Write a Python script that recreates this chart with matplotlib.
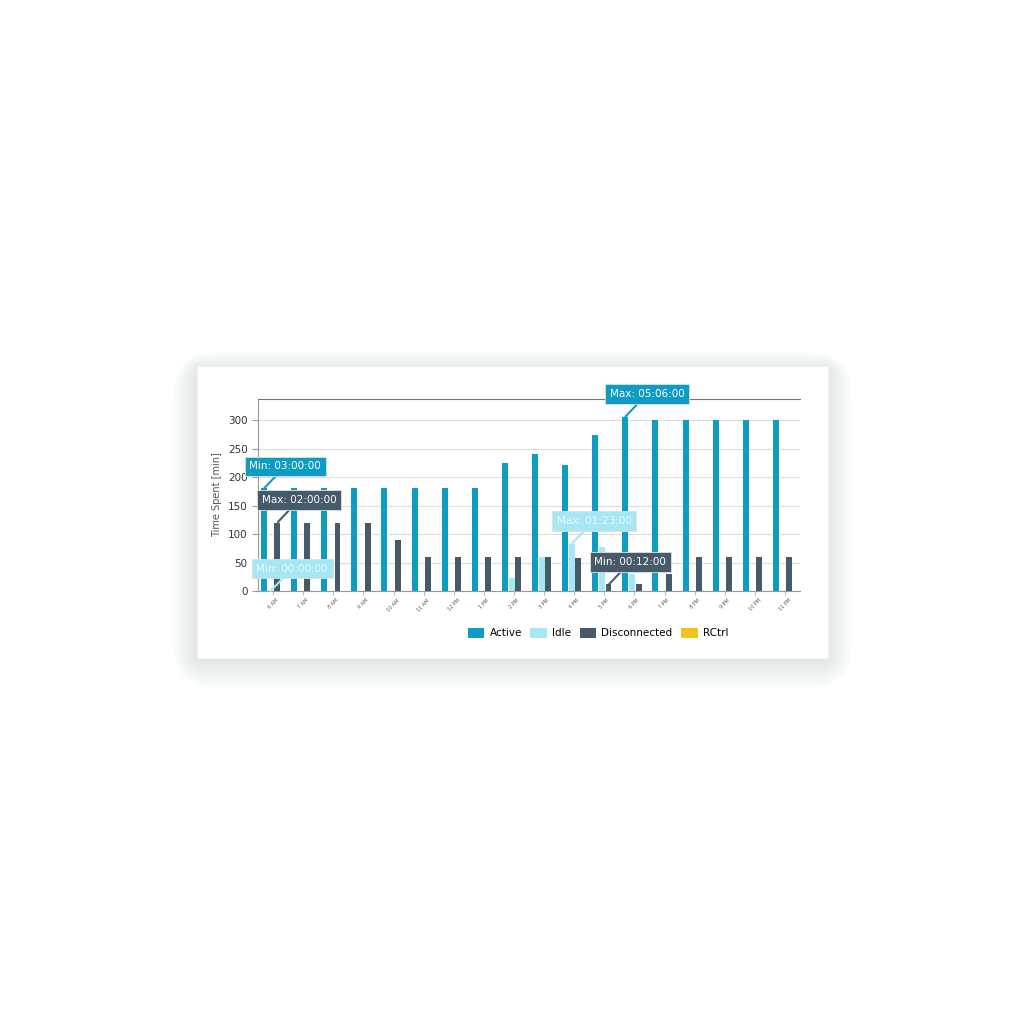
import numpy as np
import matplotlib
matplotlib.use("Agg")
import matplotlib.pyplot as plt
from matplotlib.patches import FancyBboxPatch

# Data (minutes)
hours = ["6 AM", "7 AM", "8 AM", "9 AM", "10 AM", "11 AM", "12 PM", "1 PM", "2 PM",
         "3 PM", "4 PM", "5 PM", "6 PM", "7 PM", "8 PM", "9 PM", "10 PM", "11 PM"]
active = [180, 180, 180, 180, 180, 180, 180, 180, 225, 240, 221, 273, 306, 300, 300, 300, 300, 300]
idle = [0, 0, 0, 0, 0, 0, 0, 0, 23, 60, 83, 77, 30, 0, 0, 0, 0, 0]
disconnected = [120, 120, 120, 120, 90, 60, 60, 60, 60, 60, 58, 12, 12, 30, 60, 60, 60, 60]
rctrl = [0] * 18
series_names = ["Active", "Idle", "Disconnected", "RCtrl"]
colors = ["#0f9cc3", "#a6e7f6", "#465a69", "#f1c418"]

fig = plt.figure(figsize=(10.24, 10.24), dpi=100)

# background with the card and its soft shadow
bg = fig.add_axes([0, 0, 1, 1])
bg.set_xlim(0, 1024)
bg.set_ylim(1024, 0)
bg.axis("off")
for i in range(22, 0, -1):
    bg.add_patch(FancyBboxPatch((197 - i * 1.1, 370 - i * 0.8), 631 + i * 2.2, 290 + i * 2.1,
                                boxstyle="round,pad=0,rounding_size=%d" % (i * 2),
                                fc="#a0a8b0", ec="none", alpha=0.012))
bg.add_patch(FancyBboxPatch((197, 366), 631, 292, boxstyle="square,pad=0",
                            fc="white", ec="#f2f2f2", lw=0.5))

ax = fig.add_axes([258 / 1024, 1 - 591 / 1024, 542 / 1024, 192 / 1024])
x = np.arange(len(hours))
w = 0.22
for k, (vals, name, c) in enumerate(zip([active, idle, disconnected, rctrl], series_names, colors)):
    ax.bar(x + (k - 1.5) * w + 0.03, vals, width=w * 0.9, color=c, label=name, zorder=3)

ax.set_xlim(-0.5, len(hours) - 0.5)
ax.set_ylim(0, 337)
ax.set_yticks([0, 50, 100, 150, 200, 250, 300])
ax.set_xticks(x)
ax.set_xticklabels(hours, rotation=45, fontsize=3.5, color="#555555", ha="center")
ax.tick_params(axis="y", labelsize=7.5, colors="#333333", length=4, color="#999999")
ax.tick_params(axis="x", length=3, color="#bbbbbb", pad=2)
ax.grid(axis="y", color="#dddddd", lw=0.8, zorder=0)
for s in ["left", "bottom"]:
    ax.spines[s].set_color("#999999")
ax.spines["top"].set_color("#777777")
ax.spines["right"].set_visible(False)
ax.set_ylabel("Time Spent [min]", fontsize=7, color="#555555", labelpad=4)

# tooltips: text, box position, point on bar, box colour, text colour
tips = [
    ("Min: 03:00:00", (0.40, 219), (-0.3, 180), "#0f9cc3", "white"),
    ("Max: 02:00:00", (0.86, 160), (0.16, 121), "#465a69", "white"),
    ("Min: 00:00:00", (0.63, 39), (-0.08, 0), "#a6e7f6", "#e8f9fd"),
    ("Max: 01:23:00", (10.66, 123), (9.92, 83), "#a6e7f6", "#e8f9fd"),
    ("Min: 00:12:00", (11.86, 51), (11.16, 12), "#465a69", "white"),
    ("Max: 05:06:00", (12.42, 346), (11.70, 306), "#0f9cc3", "white"),
]
for txt, pos, pt, bc, tc in tips:
    ax.annotate(txt, xy=pt, xytext=pos, ha="center", va="center", fontsize=7.5, color=tc,
                bbox=dict(boxstyle="square,pad=0.45", fc=bc, ec="#e0e0e0", lw=0.6),
                arrowprops=dict(arrowstyle="-", color=bc, lw=1.5, shrinkA=0, shrinkB=0),
                annotation_clip=False, zorder=6)

fig.legend(loc="center", bbox_to_anchor=(598 / 1024, 1 - 633 / 1024), ncol=4, frameon=False,
           fontsize=7.5, handlelength=1.6, handleheight=1.2, columnspacing=0.8, handletextpad=0.5)

fig.savefig("out.png", dpi=100, facecolor="white")
